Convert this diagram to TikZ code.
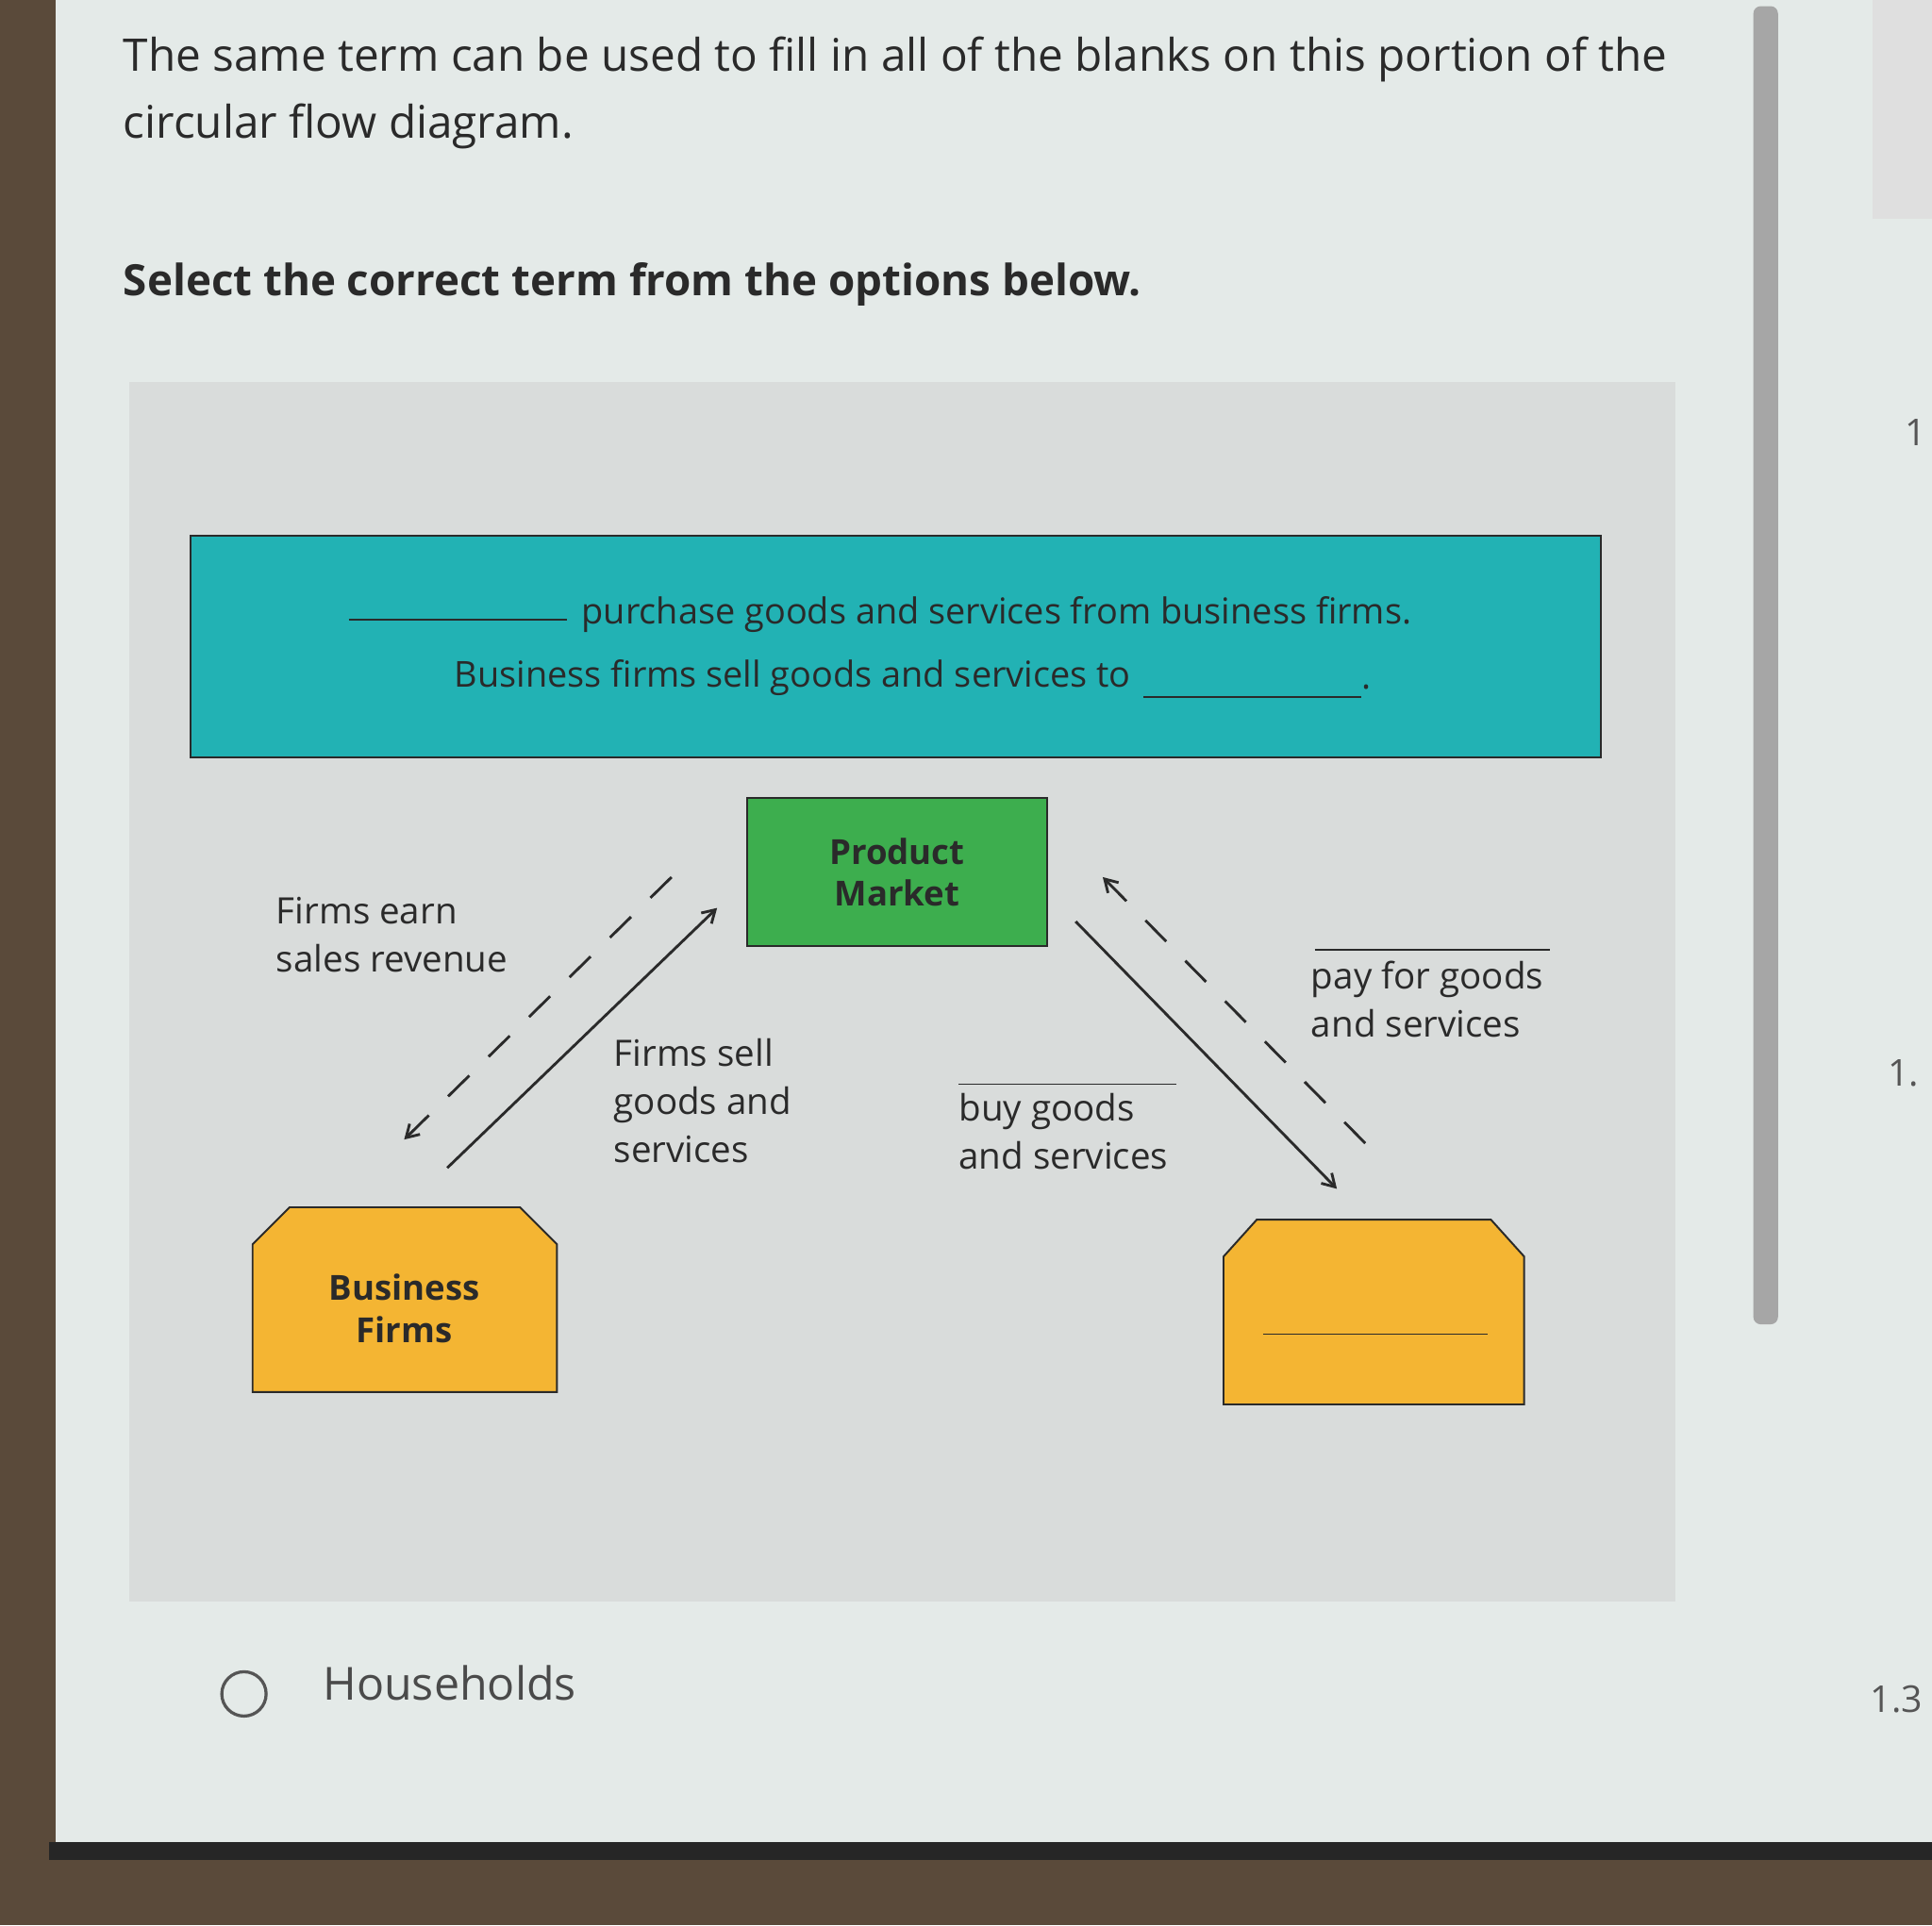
\documentclass[tikz,border=0pt]{standalone}
\usepackage{fontspec}
\setmainfont{Open Sans}
\usetikzlibrary{arrows.meta}
\definecolor{scr}{HTML}{E4EAE8}
\definecolor{panel}{HTML}{D9DCDB}
\definecolor{teal}{HTML}{22B2B4}
\definecolor{grn}{HTML}{3DAE4E}
\definecolor{org}{HTML}{F4B533}
\definecolor{ink}{HTML}{2A2A2A}
\definecolor{brn}{HTML}{5A4A3A}
\tikzset{
 lbl/.style={font=\fontsize{29.5}{39}\selectfont, text=ink, align=left, anchor=north west, inner sep=0},
 boxtxt/.style={font=\fontsize{28}{34}\selectfont\bfseries, text=ink, align=center},
 tbt/.style={font=\fontsize{29}{33}\selectfont, text=ink, inner sep=0},
 flow/.style={ink, line width=2.2pt, -{Straight Barb[length=10pt,width=12pt]}},
 dflow/.style={flow, dash pattern=on 24pt off 22pt},
 blank/.style={ink, line width=1.2pt}
}
\begin{document}
\begin{tikzpicture}[x=1pt,y=-1pt]
\useasboundingbox (0,0) rectangle (1568,1563);
\fill[brn] (0,0) rectangle (1568,1563);
\fill[scr] (45,0) rectangle (1568,1500);
\fill[black!85] (40,1495) rectangle (1568,1510);
% title
\node[lbl, font=\fontsize{36.5}{54}\selectfont] (t1) at (100,30) {The same term can be used to fill in all of the blanks on this portion of the\\circular flow diagram.};
\node[lbl, font=\fontsize{35}{40}\selectfont\bfseries] (t2) at (100,213) {Select the correct term from the options below.};
% panel
\fill[panel] (105,310) rectangle (1360,1300);
% teal box
\node[draw=ink, line width=1.5pt, fill=teal, minimum width=1145, minimum height=180, inner sep=0] (tb) at (727,525) {};
\node[tbt, anchor=west] (tl1) at (472,499) {purchase goods and services from business firms.};
\draw[blank] (283,503) -- (460,503);
\node[tbt, anchor=east] (tl2) at (918,550) {Business firms sell goods and services to};
\draw[blank] (928,566) -- (1105,566);
\node[tbt, anchor=west] (dot) at (1105,558) {.};
% product market
\node[draw=ink, line width=1.5pt, fill=grn, minimum width=243, minimum height=120, boxtxt] (pm) at (728,708) {Product\\Market};
% business firms
\fill[org, draw=ink, line width=1.5pt] (205,1130) -- (205,1010) -- (235,980) -- (422,980) -- (452,1010) -- (452,1130) -- cycle;
\node[boxtxt] (bf) at (328,1062) {Business\\Firms};
% households
\fill[org, draw=ink, line width=1.5pt] (993,1140) -- (993,1020) -- (1020,990) -- (1210,990) -- (1237,1020) -- (1237,1140) -- cycle;
\coordinate (hh) at (1115,1065);
\draw[blank] (1025,1083) -- (1207,1083);
% arrows
\coordinate (a1) at (363,948); \coordinate (a2) at (582,737);
\draw[flow] (a1) -- (a2);
\coordinate (b1) at (545,712); \coordinate (b2) at (328,925);
\draw[dflow] (b1) -- (b2);
\coordinate (c1) at (873,748); \coordinate (c2) at (1085,965);
\draw[flow] (c1) -- (c2);
\coordinate (d1) at (1108,928); \coordinate (d2) at (895,712);
\draw[dflow] (d1) -- (d2);
% labels
\node[lbl] (l1) at (224,728) {Firms earn\\sales revenue};
\node[lbl] (l2) at (498,843) {Firms sell\\goods and\\services};
\draw[blank] (778,880) -- (955,880);
\node[lbl] (l3) at (778,887) {buy goods\\and services};
\draw[blank] (1067,771) -- (1258,771);
\node[lbl] (l4) at (1064,780) {pay for goods\\and services};
% option
\draw[ink!80, line width=2.5pt] (198,1375) circle (18);
\node[lbl, font=\fontsize{37}{40}\selectfont, text=ink!85] (o1) at (262,1352) {Households};
% scrollbar
\fill[gray!70, rounded corners=6pt] (1423,5) rectangle (1443,1075);
% right edge
\fill[gray!25] (1520,0) rectangle (1568,178);
\node[lbl, font=\fontsize{30}{36}\selectfont, text=ink!80] (r1) at (1546,340) {1};
\node[lbl, font=\fontsize{30}{36}\selectfont, text=ink!80] (r2) at (1532,860) {1.};
\node[lbl, font=\fontsize{30}{36}\selectfont, text=ink!80] (r3) at (1518,1368) {1.3};
\end{tikzpicture}
\end{document}
